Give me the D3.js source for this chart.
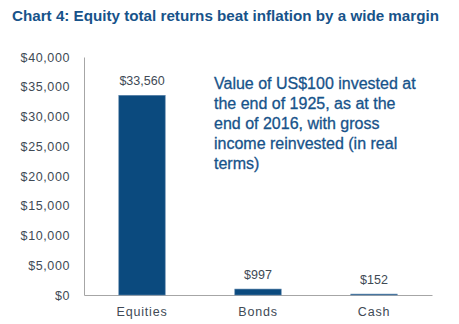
<!DOCTYPE html>
<html>
<head>
<meta charset="utf-8">
<script src="https://cdn.jsdelivr.net/npm/d3@7"></script>
<style>
  body { margin: 0; background: #fff; }
  svg { font-family: "Liberation Sans", Arial, sans-serif; }
</style>
</head>
<body>
<div id="chart"></div>
<script>
const categories = ["Equities", "Bonds", "Cash"];
const values = [33560, 997, 152];
const valueLabels = ["$33,560", "$997", "$152"];
const yTicks = [0, 5000, 10000, 15000, 20000, 25000, 30000, 35000, 40000];
const title = "Chart 4: Equity total returns beat inflation by a wide margin";
const note = ["Value of US$100 invested at", "the end of 1925, as at the", "end of 2016, with gross", "income reinvested (in real", "terms)"];

const W = 459, H = 324;
const margin = { top: 57, right: 27, bottom: 29, left: 84 };
const width = W - margin.left - margin.right;
const height = H - margin.top - margin.bottom;

const root = d3.select("#chart")
    .append("svg")
    .attr("width", W)
    .attr("height", H);

root.append("text")
    .attr("x", 12)
    .attr("y", 21)
    .attr("font-size", 15.2)
    .attr("font-weight", "bold")
    .attr("fill", "#17538a")
    .text(title);

const svg = root.append("g")
    .attr("transform", `translate(${margin.left}, ${margin.top})`);

const xScale = d3.scaleBand()
    .domain(categories)
    .range([0, width])
    .paddingInner(0.6)
    .paddingOuter(0.3);

const yScale = d3.scaleLinear()
    .domain([0, 40000])
    .range([height, 0]);

// y axis
const yAxis = svg.append("g")
    .call(d3.axisLeft(yScale).tickValues(yTicks).tickSize(0).tickPadding(14)
        .tickFormat(d => "$" + d3.format(",")(d)));
yAxis.select(".domain").attr("stroke", "#a6a6a6");
yAxis.selectAll("text")
    .attr("font-size", 12.5)
    .attr("fill", "#404a55")
    .attr("letter-spacing", "0.6px")
    .attr("font-family", "Liberation Sans, Arial, sans-serif");

// x axis
const xAxis = svg.append("g")
    .attr("transform", `translate(0, ${height})`)
    .call(d3.axisBottom(xScale).tickSize(0).tickPadding(12).tickSizeOuter(0));
xAxis.select(".domain").attr("stroke", "#a6a6a6");
xAxis.selectAll("text")
    .attr("font-size", 12.5)
    .attr("fill", "#404a55")
    .attr("letter-spacing", "0.8px")
    .attr("font-family", "Liberation Sans, Arial, sans-serif");

svg.selectAll("rect.bar")
    .data(values)
    .enter()
    .append("rect")
    .attr("class", "bar")
    .attr("x", (d, i) => xScale(categories[i]))
    .attr("y", d => yScale(d))
    .attr("width", xScale.bandwidth())
    .attr("height", d => height - yScale(d))
    .attr("fill", "#0b4a7e")
    .attr("stroke", "#5a83aa")
    .attr("stroke-width", 0.6);

svg.selectAll("text.vlabel")
    .data(values)
    .enter()
    .append("text")
    .attr("class", "vlabel")
    .attr("x", (d, i) => xScale(categories[i]) + xScale.bandwidth() / 2)
    .attr("y", d => yScale(d) - 10)
    .attr("text-anchor", "middle")
    .attr("font-size", 12.5)
    .attr("fill", "#404a55")
    .text((d, i) => valueLabels[i]);

root.append("text")
    .attr("x", 214)
    .attr("y", 89)
    .attr("font-size", 16)
    .attr("fill", "#17538a")
    .attr("stroke", "#17538a")
    .attr("stroke-width", 0.3)
    .selectAll("tspan")
    .data(note)
    .enter()
    .append("tspan")
    .attr("x", 214)
    .attr("dy", (d, i) => i === 0 ? 0 : 20)
    .text(d => d);
</script>
</body>
</html>
